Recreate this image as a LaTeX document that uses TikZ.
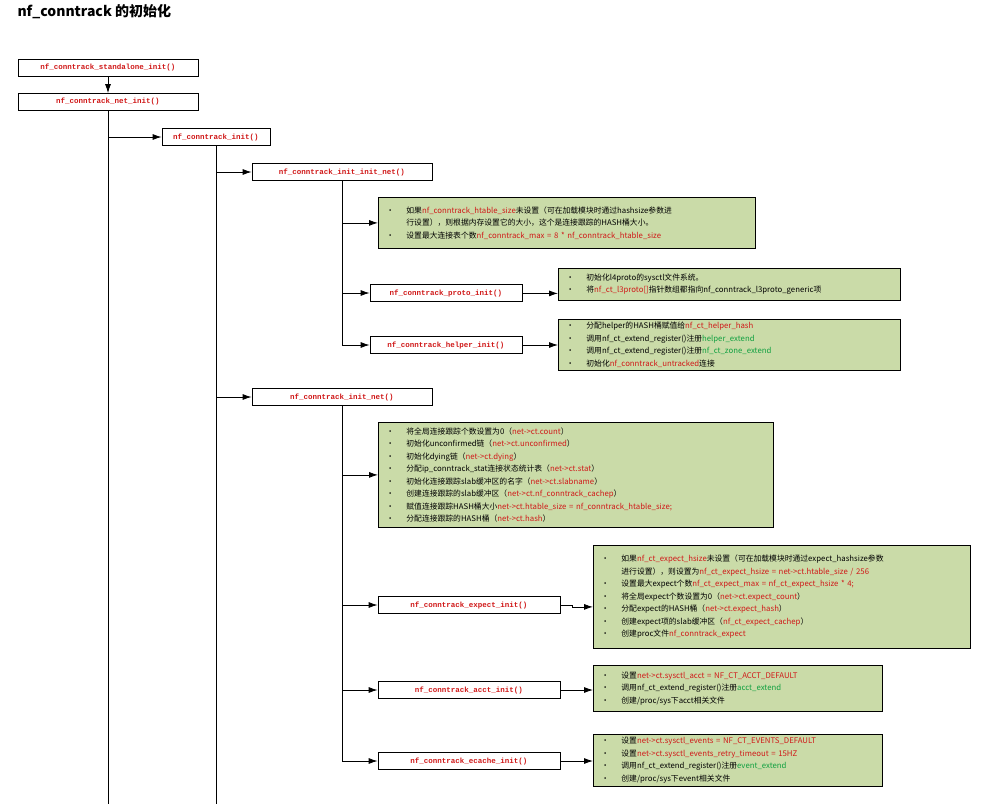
\documentclass[tikz,border=0pt]{standalone}
\usepackage{fontspec}
\setmainfont{Noto Sans CJK SC}
\newfontfamily\codefont{Liberation Mono}
\usepackage{tikz}
\usetikzlibrary{arrows.meta, positioning}
\definecolor{notegreen}{HTML}{CADBA8}
\definecolor{codered}{HTML}{D01818}
\definecolor{codegreen}{HTML}{10A040}
\newcommand{\rd}[1]{\textcolor{codered}{#1}}
\newcommand{\gn}[1]{\textcolor{codegreen}{#1}}
\newcommand{\itm}{\makebox[20pt][l]{\textbullet}}
\newcommand{\cnt}{\hspace*{20pt}}

\begin{document}
\begin{tikzpicture}[x=1pt, y=-1pt]

  \tikzset{func/.style=
    {
      draw=black,
      fill=white,
      font=\codefont\bfseries\fontsize{7.5}{9}\selectfont,
      text=codered,
      inner sep=0pt,
      line width=0.8pt,
      rectangle,
    }
  }
  \tikzset{note/.style=
    {
      draw=black,
      fill=notegreen,
      font=\fontsize{7.8}{12.5}\selectfont,
      align=left,
      anchor=north west,
      inner xsep=8pt,
      inner ysep=3pt,
      line width=0.8pt,
      rectangle,
    }
  }
  \tikzset{trunk/.style={draw, line width=0.8pt}}
  \tikzset{arr/.style={draw, line width=0.8pt, -{Latex[length=9pt, width=6pt]}}}

  \useasboundingbox (0,0) rectangle (985,804);

  \node[anchor=north west, font=\bfseries\fontsize{14}{16}\selectfont] (title) at (14,1)
    {nf\_conntrack 的初始化};

  % functions
  \node[func, minimum width=180pt, minimum height=17pt] (standalone) at (108,68) {nf\_conntrack\_standalone\_init()};
  \node[func, minimum width=180pt, minimum height=17pt] (netinit) at (108,102) {nf\_conntrack\_net\_init()};
  \node[func, minimum width=108pt, minimum height=17pt] (init) at (216,137) {nf\_conntrack\_init()};
  \node[func, minimum width=180pt, minimum height=17pt] (initinitnet) at (342,172) {nf\_conntrack\_init\_init\_net()};
  \node[func, minimum width=180pt, minimum height=17pt] (initnet) at (342,397) {nf\_conntrack\_init\_net()};
  \node[func, minimum width=152pt, minimum height=17pt] (proto) at (446,293) {nf\_conntrack\_proto\_init()};
  \node[func, minimum width=152pt, minimum height=17pt] (helper) at (446,345) {nf\_conntrack\_helper\_init()};
  \node[func, minimum width=182pt, minimum height=17pt] (expect) at (469,605) {nf\_conntrack\_expect\_init()};
  \node[func, minimum width=182pt, minimum height=17pt] (acct) at (469,690) {nf\_conntrack\_acct\_init()};
  \node[func, minimum width=182pt, minimum height=17pt] (ecache) at (469,761) {nf\_conntrack\_ecache\_init()};

  % notes
  \node[note, minimum width=377pt, minimum height=51pt, text width=361pt] (htable) at (378,197)
    {\itm 如果\rd{nf\_conntrack\_htable\_size}未设置（可在加载模块时通过hashsize参数进\\
     \cnt 行设置），则根据内存设置它的大小，这个是连接跟踪的HASH桶大小。\\
     \itm 设置最大连接表个数\rd{nf\_conntrack\_max = 8 * nf\_conntrack\_htable\_size}};
  \node[note, minimum width=342pt, minimum height=32pt, text width=326pt] (protonote) at (558,268)
    {\itm 初始化l4proto的sysctl文件系统。\\
     \itm 将\rd{nf\_ct\_l3proto[]}指针数组都指向nf\_conntrack\_l3proto\_generic项};
  \node[note, minimum width=342pt, minimum height=51pt, text width=326pt] (helpernote) at (558,319)
    {\itm 分配helper的HASH桶赋值给\rd{nf\_ct\_helper\_hash}\\
     \itm 调用nf\_ct\_extend\_register()注册\gn{helper\_extend}\\
     \itm 调用nf\_ct\_extend\_register()注册\gn{nf\_ct\_zone\_extend}\\
     \itm 初始化\rd{nf\_conntrack\_untracked}连接};
  \node[note, minimum width=395pt, minimum height=105pt, text width=379pt] (netnote) at (378,422)
    {\itm 将全局连接跟踪个数设置为0（\rd{net->ct.count}）\\
     \itm 初始化unconfirmed链（\rd{net->ct.unconfirmed}）\\
     \itm 初始化dying链（\rd{net->ct.dying}）\\
     \itm 分配ip\_conntrack\_stat连接状态统计表（\rd{net->ct.stat}）\\
     \itm 初始化连接跟踪slab缓冲区的名字（\rd{net->ct.slabname}）\\
     \itm 创建连接跟踪的slab缓冲区（\rd{net->ct.nf\_conntrack\_cachep}）\\
     \itm 赋值连接跟踪HASH桶大小\rd{net->ct.htable\_size = nf\_conntrack\_htable\_size;}\\
     \itm 分配连接跟踪的HASH桶（\rd{net->ct.hash}）};
  \node[note, minimum width=377pt, minimum height=103pt, text width=361pt] (expectnote) at (593,545)
    {\itm 如果\rd{nf\_ct\_expect\_hsize}未设置（可在加载模块时通过expect\_hashsize参数\\
     \cnt 进行设置），则设置为\rd{nf\_ct\_expect\_hsize = net->ct.htable\_size / 256}\\
     \itm 设置最大expect个数\rd{nf\_ct\_expect\_max = nf\_ct\_expect\_hsize * 4;}\\
     \itm 将全局expect个数设置为0（\rd{net->ct.expect\_count}）\\
     \itm 分配expect的HASH桶（\rd{net->ct.expect\_hash}）\\
     \itm 创建expect项的slab缓冲区（\rd{nf\_ct\_expect\_cachep}）\\
     \itm 创建proc文件\rd{nf\_conntrack\_expect}};
  \node[note, minimum width=289pt, minimum height=46pt, text width=273pt] (acctnote) at (593,665)
    {\itm 设置\rd{net->ct.sysctl\_acct = NF\_CT\_ACCT\_DEFAULT}\\
     \itm 调用nf\_ct\_extend\_register()注册\gn{acct\_extend}\\
     \itm 创建/proc/sys下acct相关文件};
  \node[note, minimum width=289pt, minimum height=52pt, text width=273pt] (ecachenote) at (593,734)
    {\itm 设置\rd{net->ct.sysctl\_events = NF\_CT\_EVENTS\_DEFAULT}\\
     \itm 设置\rd{net->ct.sysctl\_events\_retry\_timeout = 15HZ}\\
     \itm 调用nf\_ct\_extend\_register()注册\gn{event\_extend}\\
     \itm 创建/proc/sys下event相关文件};

  % trunk ends
  \coordinate (netinit-end) at (108,804);
  \coordinate (init-end) at (216,804);
  \coordinate (initinitnet-end) at (342,345);
  \coordinate (initnet-end) at (342,761);
  \coordinate (proto-bend) at (535,293);
  \coordinate (expect-bend) at (572,605);

  % connectors
  \draw[arr] (standalone) -- (netinit);
  \draw[trunk] (netinit.south) -- (netinit-end);
  \draw[arr] (netinit.south |- init.west) -- (init.west);
  \draw[trunk] (init.south) -- (init-end);
  \draw[arr] (init.south |- initinitnet.west) -- (initinitnet.west);
  \draw[arr] (init.south |- initnet.west) -- (initnet.west);
  \draw[trunk] (initinitnet.south) -- (initinitnet-end);
  \draw[arr] (initinitnet.south |- htable.west) -- (htable.west);
  \draw[arr] (initinitnet.south |- proto.west) -- (proto.west);
  \draw[arr] (initinitnet.south |- helper.west) -- (helper.west);
  \draw[trunk] (initnet.south) -- (initnet-end);
  \draw[arr] (initnet.south |- netnote.west) -- (netnote.west);
  \draw[arr] (initnet.south |- expect.west) -- (expect.west);
  \draw[arr] (initnet.south |- acct.west) -- (acct.west);
  \draw[arr] (initnet.south |- ecache.west) -- (ecache.west);
  \draw[arr] (proto.east) -- (proto-bend) |- ([yshift=-9pt]protonote.west);
  \draw[arr] (helper.east) -- (helper.east -| helpernote.west);
  \draw[arr] (expect.east) -- (expect-bend) |- ([yshift=-10pt]expectnote.west);
  \draw[arr] (acct.east) -- (acct.east -| acctnote.west);
  \draw[arr] (ecache.east) -- (ecache.east -| ecachenote.west);

\end{tikzpicture}
\end{document}
